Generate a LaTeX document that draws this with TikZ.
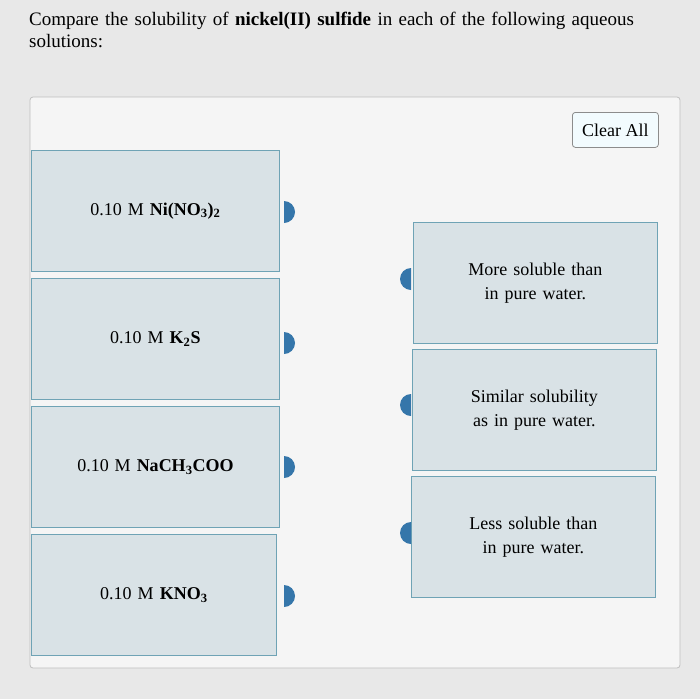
\documentclass[tikz,border=0pt]{standalone}
\usepackage{fontspec}
\setmainfont{Liberation Serif}
\definecolor{boxfill}{HTML}{D9E2E6}
\definecolor{boxline}{HTML}{6FA3B5}
\definecolor{tabc}{HTML}{3576AA}
\begin{document}
\begin{tikzpicture}[x=1pt,y=-1pt,
  panel/.style={fill=black!4,draw=black!25,line width=0.8pt,rounded corners=3pt},
  lbox/.style={fill=boxfill,draw=boxline,line width=0.8pt,minimum width=248pt,minimum height=121pt,anchor=north west,inner sep=0pt,text width=200pt,align=center,font=\fontsize{18}{24}\selectfont},
  rbox/.style={lbox,minimum width=244pt,text width=215pt},
  tab/.style={fill=tabc},
  btn/.style={fill=white!95!cyan,draw=black!45,rounded corners=3pt,line width=0.8pt,minimum width=86pt,minimum height=35pt,anchor=north west,font=\fontsize{18}{20}\selectfont}]
\useasboundingbox (0,0) rectangle (700,699);
\fill[black!9] (0,0) rectangle (700,699);
\node[anchor=north west,text width=650pt,align=left,inner sep=0pt,font=\fontsize{19}{22}\selectfont] (title) at (29,12)
  {Compare the solubility of \textbf{nickel(II) sulfide} in each of the following aqueous\\ solutions:};
\draw[panel] (30,97) rectangle (680,668);
\node[btn] (clear) at (572,112) {Clear All};
\node[lbox] (a) at (31,150) {0.10 M \textbf{Ni(NO\textsubscript{3})\textsubscript{2}}};
\node[lbox] (b) at (31,278) {0.10 M \textbf{K\textsubscript{2}S}};
\node[lbox] (c) at (31,406) {0.10 M \textbf{NaCH\textsubscript{3}COO}};
\node[lbox,minimum width=245pt] (d) at (31,534) {0.10 M \textbf{KNO\textsubscript{3}}};
\node[rbox] (e) at (413,222) {More soluble than in pure water.};
\node[rbox] (f) at (412,349) {Similar solubility as in pure water.};
\node[rbox] (g) at (411,476) {Less soluble than in pure water.};
\foreach \y in {212,343,467,596}{
  \fill[tab] (284,\y-11) arc (90:-90:11pt and 11pt) -- cycle;}
\foreach \y in {279,405,533}{
  \fill[tab] (411,\y-11) arc (90:270:11pt and 11pt) -- cycle;}
\end{tikzpicture}
\end{document}
